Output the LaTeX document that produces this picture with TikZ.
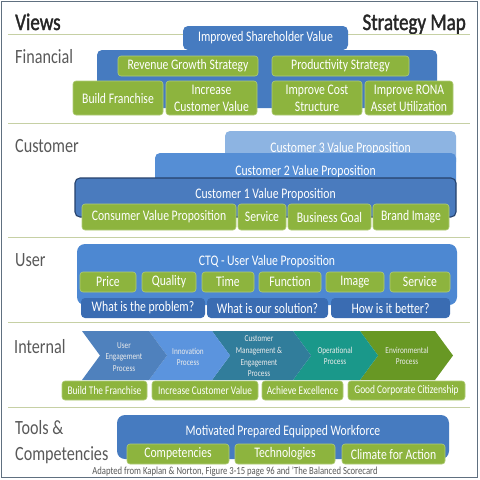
\documentclass[tikz,border=0pt]{standalone}
\usepackage{fontspec}
\setmainfont{Carlito}[FakeStretch=0.8]
\newfontfamily\titlefont{Carlito}[FakeStretch=0.8, FakeBold=1.4]
\definecolor{bluA}{RGB}{70,123,192}
\definecolor{bluC3}{RGB}{141,180,226}
\definecolor{bluC2}{RGB}{85,142,213}
\definecolor{bluC1}{RGB}{74,123,190}
\definecolor{navy}{RGB}{38,66,108}
\definecolor{bluU}{RGB}{77,136,210}
\definecolor{bluT}{RGB}{58,108,178}
\definecolor{grn}{RGB}{141,180,62}
\definecolor{grnedge}{RGB}{176,204,120}
\definecolor{chA}{RGB}{79,129,189}
\definecolor{chB}{RGB}{91,148,222}
\definecolor{chC}{RGB}{49,125,155}
\definecolor{chD}{RGB}{26,152,138}
\definecolor{chE}{RGB}{104,152,36}
\definecolor{sepcol}{RGB}{198,208,164}
\definecolor{labgray}{RGB}{89,89,89}
\definecolor{frm}{RGB}{96,112,128}
\begin{document}
\begin{tikzpicture}[x=1pt,y=-1pt,
  box/.style={rounded corners=5pt, inner sep=0pt, text=white, align=center,
    font=\fontsize{14.6}{17}\selectfont},
  bbox/.style={box, fill=bluA},
  gbox/.style={box, fill=grn, draw=grnedge, line width=0.6pt, rounded corners=3pt},
  tbox/.style={box, fill=bluT, rounded corners=4pt},
  small/.style={font=\fontsize{11.7}{13}\selectfont},
  sect/.style={anchor=base west, inner sep=0pt, text=labgray,
    font=\fontsize{20.2}{26}\selectfont},
  sep/.style={draw=sepcol, line width=0.9pt},
  ptxt/.style={inner sep=0pt, text=white!92!black, align=center,
    font=\fontsize{9.1}{11.7}\selectfont}]
\useasboundingbox (0,0) rectangle (480,480);
\fill[white] (0,0) rectangle (480,480);
\draw[frm, line width=0.8pt] (1,1) rectangle (477,477);

\node[anchor=base west, inner sep=0pt, text=black!85, font=\titlefont\fontsize{23.8}{26}\selectfont] (views) at (15,30) {Views};
\node[anchor=base east, inner sep=0pt, text=black!85, font=\titlefont\fontsize{23.8}{26}\selectfont] (smap) at (466,30) {Strategy Map};
\draw[sep] (8,34) -- (470,34);
\draw[sep] (8,123) -- (470,123);
\draw[sep] (8,237) -- (470,237);
\draw[sep] (8,322) -- (470,322);
\draw[sep] (8,407) -- (470,407);

\node[sect] (fin) at (15,63) {Financial};
\node[bbox, minimum width=340pt, minimum height=58pt] (finbox) at (267,79) {};
\node[bbox, minimum width=165pt, minimum height=24pt] (shv) at (265.5,38) {Improved Shareholder Value};
\node[gbox, minimum width=140pt, minimum height=20pt] (rgs) at (188,66) {Revenue Growth Strategy};
\node[gbox, minimum width=137pt, minimum height=20pt] (prs) at (340.5,66) {Productivity Strategy};
\node[gbox, minimum width=90pt, minimum height=34pt] (bfr) at (118,98) {Build Franchise};
\node[gbox, minimum width=91pt, minimum height=34pt] (icv) at (211.5,98) {Increase\\Customer Value};
\node[gbox, minimum width=90pt, minimum height=34pt] (ics) at (317,98) {Improve Cost\\Structure};
\node[gbox, minimum width=88pt, minimum height=34pt] (rona) at (409,98) {Improve RONA\\Asset Utilization};

\node[sect] (cus) at (15,152) {Customer};
\node[box, fill=bluC3, minimum width=231pt, minimum height=36pt] (cvp3) at (340.5,149) {Customer 3 Value Proposition};
\node[box, fill=bluC2, minimum width=301pt, minimum height=38pt] (cvp2) at (305.5,172) {Customer 2 Value Proposition};
\node[box, fill=bluC1, draw=navy, line width=1.1pt, anchor=base, text height=20.5pt, text depth=18.5pt,
  minimum width=381pt] (cvp1) at (265.5,198.5) {Customer 1 Value Proposition};
\node[gbox, minimum width=154pt, minimum height=26pt] (cons) at (159,217) {Consumer Value Proposition};
\node[gbox, minimum width=48pt, minimum height=26pt] (csvc) at (262,217) {Service};
\node[gbox, minimum width=83pt, minimum height=26pt] (bgl) at (329.5,217) {Business Goal};
\node[gbox, minimum width=76pt, minimum height=26pt] (bim) at (411,217) {Brand Image};

\node[sect] (usr) at (15,266) {User};
\node[box, fill=bluU, rounded corners=8pt, anchor=base, text height=21.5pt, text depth=39.5pt,
  minimum width=380pt] (ctq) at (267,265.5) {CTQ - User Value Proposition};
\node[gbox, minimum width=56pt, minimum height=20pt] (price) at (108,282) {Price};
\node[gbox, minimum width=54pt, minimum height=20pt] (qual) at (169,282) {Quality};
\node[gbox, minimum width=52pt, minimum height=20pt] (time) at (228,282) {Time};
\node[gbox, minimum width=62pt, minimum height=20pt] (func) at (290,282) {Function};
\node[gbox, minimum width=58pt, minimum height=20pt] (img) at (355,282) {Image};
\node[gbox, minimum width=60pt, minimum height=20pt] (usvc) at (420,282) {Service};
\node[tbox, minimum width=124pt, minimum height=20pt] (prob) at (143,308) {What is the problem?};
\node[tbox, minimum width=121pt, minimum height=20pt] (sol) at (267.5,308) {What is our solution?};
\node[tbox, minimum width=119pt, minimum height=20pt] (bet) at (390.5,308) {How is it better?};

\node[sect] (int) at (14,353) {Internal};
\fill[chE] (360,331) -- (435,331) -- (453,355.5) -- (435,380) -- (360,380) -- (378,355.5) -- cycle;
\fill[chD] (293,331) -- (360,331) -- (378,355.5) -- (360,380) -- (293,380) -- (311,355.5) -- cycle;
\fill[chC] (212,331) -- (293,331) -- (311,355.5) -- (293,380) -- (212,380) -- (230,355.5) -- cycle;
\fill[chB] (149,331) -- (212,331) -- (230,355.5) -- (212,380) -- (149,380) -- (167,355.5) -- cycle;
\fill[chA] (82,331) -- (149,331) -- (167,355.5) -- (149,380) -- (82,380) -- (100,355.5) -- cycle;
\node[ptxt] (uep) at (124,357) {User\\Engagement\\Process};
\node[ptxt] (inp) at (188,357) {Innovation\\Process};
\node[ptxt] (cmep) at (259,356.5) {Customer\\Management \&\\Engagement\\Process};
\node[ptxt] (opp) at (335,356) {Operational\\Process};
\node[ptxt] (envp) at (407,356) {Environmental\\Process};
\node[gbox, small, minimum width=85pt, minimum height=19pt] (btf) at (104.5,390.5) {Build The Franchise};
\node[gbox, small, minimum width=106pt, minimum height=19pt] (icv2) at (205,390.5) {Increase Customer Value};
\node[gbox, small, minimum width=81pt, minimum height=19pt] (aex) at (302.5,390.5) {Achieve Excellence};
\node[gbox, small, minimum width=117pt, minimum height=19pt] (gcc) at (406.5,390.5) {Good Corporate Citizenship};

\node[sect, anchor=north west, align=left] (tools) at (15,420) {Tools \&\\Competencies};
\node[bbox, rounded corners=8pt, anchor=base, text height=20.5pt, text depth=23.5pt,
  minimum width=332pt] (mpe) at (283,435.5) {Motivated Prepared Equipped Workforce};
\node[gbox, minimum width=102pt, minimum height=20pt] (comp) at (178,454) {Competencies};
\node[gbox, minimum width=100pt, minimum height=20pt] (tech) at (285,454) {Technologies};
\node[gbox, minimum width=103pt, minimum height=20pt] (cfa) at (393.5,454) {Climate for Action};
\node[anchor=base, inner sep=0pt, text=labgray, font=\fontsize{10.8}{12}\selectfont] (src) at (235,474)
  {Adapted from Kaplan \& Norton, Figure 3-15 page 96 and 'The Balanced Scorecard};
\end{tikzpicture}
\end{document}
